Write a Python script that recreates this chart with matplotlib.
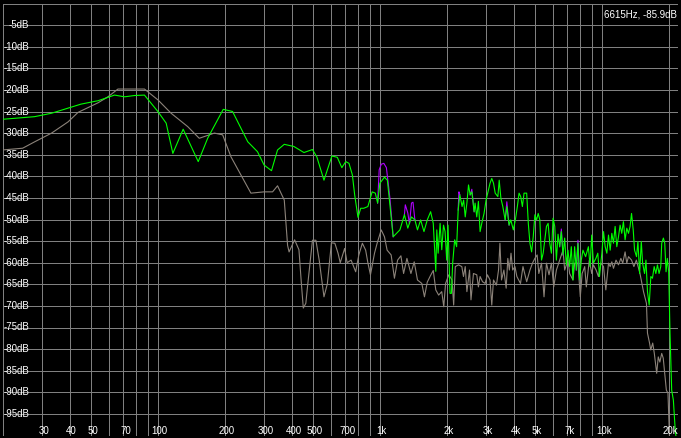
"""
Spectrum analyser view: two takes compared, log frequency axis, dB levels.
"""
import numpy as np
import matplotlib
matplotlib.use('Agg')
import matplotlib.pyplot as plt
from matplotlib import font_manager


# gray trace (reference take)
gray_hz = [20, 24.6, 27.9, 33.2, 39.4, 43.7, 53.7, 59.6, 66.1, 87, 100, 114.7, 136.3, 153.6,
           179.7, 195.8, 213.5, 236.6, 262.5, 301, 328.6, 346, 371, 384, 390, 413, 432, 443,
           452, 464, 472, 497, 515, 533, 560, 580, 605, 627, 648, 663, 694, 712, 742, 778,
           804, 834, 863, 883, 907, 946, 972, 1014, 1049, 1078, 1124, 1163, 1202, 1244, 1279,
           1324, 1380, 1428, 1477, 1545, 1588, 1635, 1690, 1740, 1786, 1840, 1900, 1940, 1977,
           2044, 2114, 2150, 2186, 2262, 2340, 2380, 2424, 2466, 2535, 2573, 2640, 2732, 2779,
           2828, 2900, 2980, 3050, 3135, 3192, 3250, 3350, 3424, 3474, 3531, 3620, 3706, 3770,
           3830, 3897, 3965, 4060, 4141, 4220, 4300, 4412, 4585, 4743, 4870, 4993, 5110, 5200,
           5347, 5488, 5629, 5780, 5926, 6070, 6240, 6457, 6682, 6800, 7036, 7158, 7410, 7539,
           7803, 7995, 8150, 8370, 8510, 8780, 9002, 9159, 9420, 9650, 9900, 10173, 10420,
           10713, 10900, 11088, 11280, 11580, 11880, 12180, 12420, 12725, 12950, 13180, 13400,
           13604, 13940, 14300, 14850, 15100, 15400, 15880, 16050, 16400, 16600, 16945, 17230,
           17660, 17950, 18250, 18604, 18900, 19200, 19520, 19850, 20040, 20170]
gray_db = [-33.9, -33.5, -32.0, -30.0, -27.4, -25.2, -23.0, -21.6, -19.8, -19.8, -22.3, -25.4,
           -28.5, -31.2, -30.0, -30.4, -35.5, -39.7, -43.9, -43.6, -43.6, -42.2, -45.5, -56.0,
           -57.5, -54.7, -57.0, -64.8, -70.5, -69.4, -65.6, -54.8, -54.8, -59.4, -67.9, -64.9,
           -55.4, -55.5, -57.8, -60.0, -56.7, -60.0, -59.4, -62.1, -58.2, -55.5, -57.1, -60.0,
           -62.8, -57.8, -55.5, -52.4, -54.0, -57.1, -58.2, -63.6, -59.4, -58.4, -62.5, -59.0,
           -62.5, -59.8, -64.0, -64.8, -67.9, -64.5, -63.0, -61.8, -66.3, -67.5, -66.7, -70.2,
           -64.8, -62.8, -64.0, -69.8, -60.9, -60.5, -60.9, -63.2, -60.9, -66.7, -61.7, -68.6,
           -62.5, -62.8, -65.6, -63.2, -64.4, -64.8, -62.8, -64.0, -69.8, -64.0, -65.2, -61.7,
           -55.5, -64.0, -61.7, -65.9, -59.0, -61.7, -57.8, -61.7, -60.9, -63.2, -64.0, -64.8,
           -60.9, -64.4, -61.7, -60.1, -59.0, -58.2, -62.5, -60.1, -67.9, -60.1, -62.8, -60.1,
           -65.6, -61.7, -59.4, -57.1, -61.7, -59.4, -62.5, -64.0, -60.1, -60.1, -67.9, -62.5,
           -60.9, -65.6, -59.4, -62.5, -60.5, -61.7, -63.2, -60.1, -60.9, -66.3, -60.1, -60.9,
           -59.8, -61.3, -59.4, -60.5, -59.0, -60.1, -57.5, -60.1, -58.6, -59.0, -59.4, -60.9,
           -59.4, -62.5, -64.4, -66.7, -69.4, -76.3, -78.6, -80.2, -78.6, -81.0, -85.6, -81.8,
           -83.0, -81.0, -82.1, -85.6, -89.5, -90.2, -96.4, -100.5]

# green trace (processed take)
green_hz = [20, 27.8, 33.2, 38.9, 45, 53.8, 63.8, 70.8, 78.5, 87, 100, 109, 116.8, 130, 152,
            167.6, 197, 217, 254, 281, 301, 325, 346, 371, 410, 455, 497, 520, 560, 608, 643,
            674, 702, 726, 752, 770, 797, 820, 846, 883, 923, 954, 977, 1000, 1049, 1081, 1112,
            1148, 1188, 1231, 1290, 1336, 1388, 1438, 1477, 1526, 1580, 1635, 1693, 1740, 1786,
            1805, 1830, 1868, 1900, 1935, 1967, 2000, 2028, 2070, 2100, 2128, 2172, 2217, 2253,
            2292, 2346, 2384, 2424, 2466, 2508, 2551, 2596, 2658, 2685, 2732, 2779, 2828, 2877,
            2946, 3009, 3081, 3135, 3192, 3250, 3308, 3400, 3448, 3509, 3580, 3667, 3732, 3819,
            3887, 3993, 4076, 4162, 4236, 4310, 4385, 4461, 4585, 4663, 4743, 4825, 4908, 4993,
            5080, 5167, 5256, 5347, 5440, 5534, 5629, 5727, 5826, 5926, 6029, 6133, 6240, 6347,
            6457, 6568, 6682, 6798, 6915, 7036, 7158, 7283, 7410, 7539, 7670, 7803, 7939, 8077,
            8218, 8450, 8697, 8848, 9002, 9159, 9400, 9587, 9754, 10000, 10173, 10350, 10530,
            10713, 10900, 11088, 11280, 11475, 11676, 11880, 12084, 12290, 12506, 12725, 12950,
            13180, 13400, 13604, 13844, 14037, 14328, 14535, 14796, 15052, 15257, 15571, 15800,
            16050, 16335, 16621, 16900, 17205, 17500, 17800, 18100, 18421, 18604, 18930, 19200,
            19460, 19725, 20000, 20275, 20630, 20993, 21359, 21590]
green_db = [-26.8, -26.2, -25.4, -24.3, -23.3, -22.5, -21.2, -21.6, -21.3, -21.2, -25.0, -27.7,
            -34.7, -29.1, -36.6, -31.2, -24.5, -25.0, -32.0, -34.3, -37.4, -38.7, -33.9, -32.6,
            -33.1, -34.5, -33.8, -35.5, -40.9, -35.3, -35.6, -38.0, -36.6, -37.0, -39.7, -44.3,
            -49.5, -47.4, -47.4, -47.0, -43.6, -43.9, -46.2, -41.6, -40.2, -40.9, -47.0, -54.0,
            -53.2, -52.4, -48.9, -52.0, -49.4, -50.1, -52.4, -50.1, -52.8, -50.1, -48.2, -50.9,
            -62.0, -52.4, -57.8, -50.9, -57.0, -51.3, -52.8, -59.4, -51.3, -67.1, -67.1, -60.1,
            -54.7, -56.3, -47.8, -44.3, -47.0, -45.5, -49.4, -46.2, -42.0, -44.3, -43.6, -48.2,
            -46.2, -49.4, -45.8, -52.8, -50.9, -48.6, -45.5, -43.2, -41.6, -40.5, -41.6, -43.9,
            -44.7, -40.9, -45.1, -47.0, -50.1, -47.0, -51.3, -50.1, -52.4, -50.1, -47.0, -43.9,
            -44.7, -47.0, -43.9, -43.9, -50.9, -55.5, -57.5, -54.0, -48.9, -50.1, -48.6, -50.1,
            -59.4, -57.8, -54.7, -51.6, -50.9, -55.5, -57.8, -49.7, -51.6, -59.4, -53.4, -56.3,
            -52.8, -58.2, -54.3, -60.5, -57.1, -60.9, -56.3, -64.0, -56.3, -61.7, -55.5, -64.0,
            -59.4, -57.1, -58.6, -56.3, -60.9, -53.6, -60.1, -59.0, -57.8, -63.2, -57.8, -52.8,
            -56.3, -57.8, -53.6, -57.1, -53.2, -55.5, -51.6, -56.3, -54.0, -51.3, -53.2, -50.5,
            -54.7, -52.0, -53.2, -51.6, -48.6, -52.4, -57.1, -58.6, -55.1, -62.5, -55.1, -60.1,
            -62.5, -59.4, -66.7, -69.8, -63.2, -63.6, -60.9, -62.5, -60.5, -62.5, -60.9, -55.5,
            -54.3, -55.5, -62.1, -59.0, -62.1, -76.3, -89.5, -91.8, -98.0, -100.5]

# purple trace: only the bits that poke out above the green one (nan = gap)
purple_hz = [977, 993, 1015, 1042, 1070, 1090, 1112, 1148, np.nan,
             1290, 1302, 1336, 1360, 1388, 1410, 1438, np.nan,
             2253, 2270, 2292, np.nan, 2551, 2596, 2658, np.nan,
             3667, 3732, 3819, np.nan, 6457, 6568, 6682, np.nan, 7670, 7803, 7939]
purple_db = [-46.2, -38.5, -37.2, -37.0, -38.0, -41.5, -45.5, -54.0, np.nan,
             -48.9, -46.6, -48.5, -51.0, -46.2, -46.0, -50.1, np.nan,
             -47.8, -43.6, -44.3, np.nan, -44.3, -43.0, -48.2, np.nan,
             -50.1, -45.9, -51.3, np.nan, -56.3, -52.2, -58.2, np.nan, -61.7, -54.8, -64.0]

# grid and labels
grid_hz = [20, 30, 40, 50, 60, 70, 80, 90, 100, 200, 300, 400, 500, 600, 700, 800, 900,
           1000, 2000, 3000, 4000, 5000, 6000, 7000, 8000, 9000, 10000, 20000]
xlabel_hz = [30, 40, 50, 70, 100, 200, 300, 400, 500, 700,
             1000, 2000, 3000, 4000, 5000, 7000, 10000, 20000]
xlabel_txt = ['30', '40', '50', '70', '100', '200', '300', '400', '500', '700',
              '1k', '2k', '3k', '4k', '5k', '7k', '10k', '20k']
db_levels = list(range(0, -105, -5))
readout = '6615Hz, -85.9dB'

# narrow font is closer to the analyser's bitmap font, if it is there
names = {f.name for f in font_manager.fontManager.ttflist}
if 'Liberation Sans Narrow' in names:
    font = dict(family='Liberation Sans Narrow', size=8, color='white')
else:
    font = dict(family='Liberation Sans', size=7, color='white')

W, H = 681, 438
fig = plt.figure(figsize=(W / 100, H / 100), dpi=100, facecolor='black')
ax = fig.add_axes([2.7 / W, 2.5 / H, 675.4 / W, 432 / H], facecolor='black')
ax.set_xscale('log')
ax.set_xlim(20, 22050)
ax.set_ylim(-100, 0)
for s in ax.spines.values():
    s.set_visible(False)
ax.set_xticks([])
ax.set_yticks([])
ax.minorticks_off()

gridcol = '#808080'
for f in grid_hz:
    ax.axvline(f, color=gridcol, lw=0.72, zorder=1)
for d in db_levels:
    ax.axhline(d, color=gridcol, lw=0.72, zorder=1)

ax.plot(gray_hz, gray_db, color='#8c837a', lw=0.8, zorder=2)
ax.plot(purple_hz, purple_db, color='#b000ff', lw=0.8, zorder=3)
ax.plot(green_hz, green_db, color='#00ff00', lw=0.8, zorder=4)

ytf = ax.get_yaxis_transform()
for d in db_levels[1:-1]:
    ax.text(0.039, d, '%ddB' % d, transform=ytf, ha='right', va='center', zorder=5, **font)

xtf = ax.get_xaxis_transform()
for f, t in zip(xlabel_hz, xlabel_txt):
    ax.annotate(t, (f, 0.0093), xycoords=xtf, xytext=(2, 0), textcoords='offset pixels',
                ha='center', va='center', zorder=5, **font)

ax.text(0.9984, 0.9734, readout, transform=ax.transAxes, ha='right', va='center', zorder=5, **font)

fig.savefig('out.png', dpi=100, facecolor='black')
